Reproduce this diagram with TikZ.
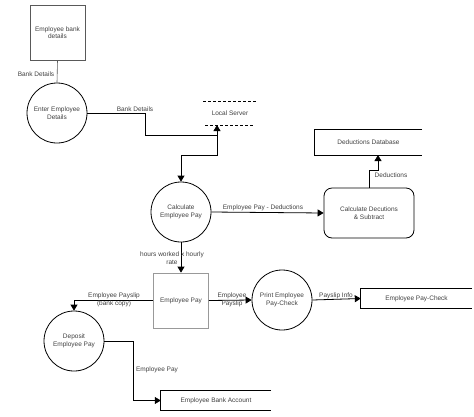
\documentclass[tikz,border=0pt]{standalone}
\usepackage{fontspec}
\setmainfont{Liberation Sans}
\usepackage{tikz}
\usetikzlibrary{arrows.meta}

\begin{document}
\begin{tikzpicture}
      [ x=1pt, y=-1pt,
        every node/.style={font=\fontsize{6.5}{7.5}\selectfont, text=black!75, align=center},
        process/.style={draw=black, thick, circle, minimum size=60pt, inner sep=0pt},
        entity/.style={draw=black!65, thick, minimum width=55pt, minimum height=55pt, inner sep=0pt},
        store/.style={minimum height=19pt, inner sep=0pt},
        flow/.style={thick, -{Triangle[length=6pt,width=7pt]}},
        line/.style={thick}
      ]
      \useasboundingbox (0,0) rectangle (474,416);

      % external entities and processes
      \node[entity]                       (ebd)  at (57.5,32.5)   {Employee bank\\details};
      \node[process]                      (ee)   at (57,113)      {Enter Employee\\Details};
      \node                               (ls)   at (230,113)     {Local Server};
      \node[process]                      (cp)   at (181,212)     {Calculate\\Employee Pay};
      \node[draw=black, thick, rounded corners=8pt, minimum width=90pt, minimum height=50pt]
                                          (cd)   at (369,213)     {Calculate Decutions\\\& Subtract};
      \node[store, minimum width=107pt, minimum height=25pt]
                                          (dd)   at (368.5,142.5) {Deductions Database};
      \node[entity, draw=black!40]        (ep)   at (181,300.5)   {Employee Pay};
      \node[process]                      (dep)  at (74,341)      {Deposit\\Employee Pay};
      \node[process]                      (pep)  at (282,300)     {Print Employee\\Pay-Check};
      \node[store, minimum width=111pt]   (epc)  at (416.5,298.5) {Employee Pay-Check};
      \node[store, minimum width=110pt]   (eba)  at (216,400.5)   {Employee Bank Account};

      % data stores drawn open at the right
      \draw[line] (dd.north east) -- (dd.north west) -- (dd.south west) -- (dd.south east);
      \draw[line] (epc.north east) -- (epc.north west) -- (epc.south west) -- (epc.south east);
      \draw[line] (eba.north east) -- (eba.north west) -- (eba.south west) -- (eba.south east);
      \draw[line, dash pattern=on 3pt off 2pt] (203,101) -- (257,101);
      \draw[line, dash pattern=on 3pt off 2pt] (205,125) -- (253,125);
      \coordinate (lsin) at (217,125);
      \coordinate (ddin) at (378,155);

      % flows
      \draw[black!65, semithick] (ebd.south) -- (ee.north);
      \draw[flow] (ee.east) -| ++(58,22) -| (lsin);
      \draw[flow] (lsin) -- ++(0,30) -| (cp.north);
      \draw[flow] (cp.east) -- (cd.west);
      \draw[flow] (cd.north) -- ++(0,-17) -| (ddin);
      \draw[flow] (cp.south) -- (ep.north);
      \draw[flow] (ep.west) -| (dep.north);
      \draw[flow] (dep.east) -- ++(29,0) |- (eba.west);
      \draw[flow] (ep.east) -- (pep.west);
      \draw[flow] (pep.east) -- (epc.west);

      % flow labels
      \node (l1) at (36,74)    {Bank Details};
      \node (l2) at (135,109)  {Bank Details};
      \node (l3) at (263,208)  {Employee Pay - Deductions};
      \node (l4) at (391,175)  {Deductions};
      \node (l5) at (172,258)  {hours worked x hourly\\rate};
      \node (l6) at (114,300)  {Employee Payslip\\(bank copy)};
      \node (l7) at (232,300)  {Employee\\Payslip};
      \node (l8) at (336,296)  {Payslip Info};
      \node (l9) at (157,370)  {Employee Pay};
    \end{tikzpicture}
\end{document}
